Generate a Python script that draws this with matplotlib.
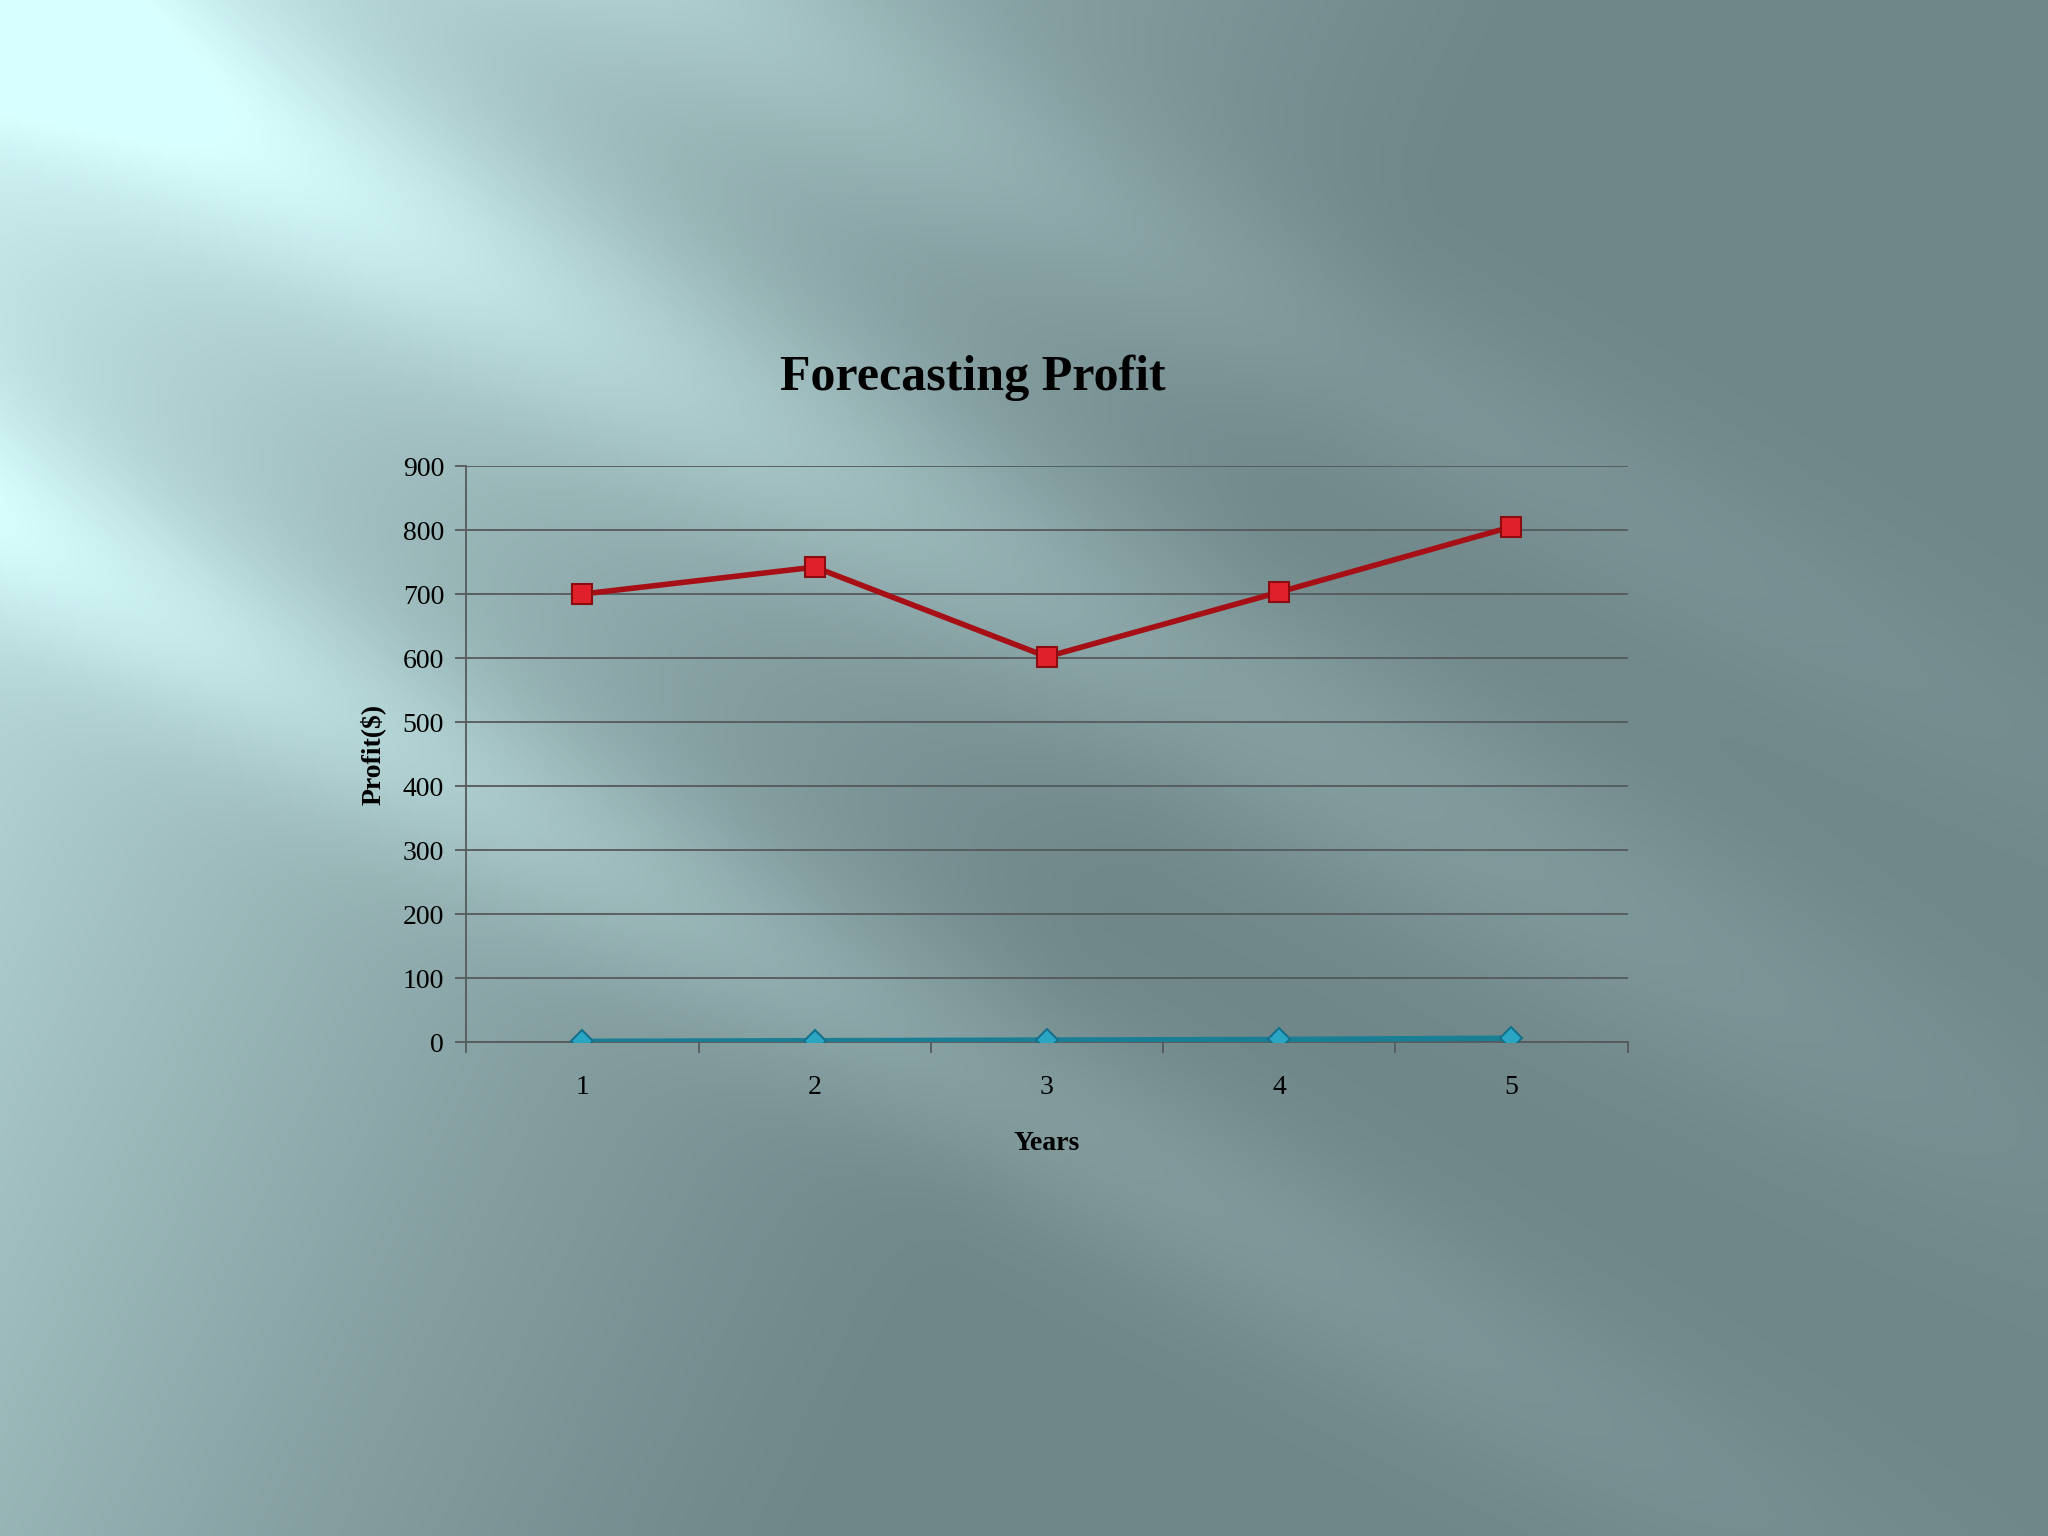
import numpy as np
import matplotlib
matplotlib.use("Agg")
import matplotlib.pyplot as plt

years = [1, 2, 3, 4, 5]
profit = [700, 742, 602, 703, 805]
baseline = [1, 2, 3, 4, 6]
yticks = [0, 100, 200, 300, 400, 500, 600, 700, 800, 900]

plt.rcParams['font.family'] = ['Liberation Serif', 'DejaVu Serif']
fig = plt.figure(figsize=(20.48, 15.36), dpi=100)

# background
bg = fig.add_axes([0, 0, 1, 1])
h, w = 384, 512
yy, xx = np.mgrid[0:h, 0:w]
u = xx / w; v = yy / h
d = (u * 1.0 + v * 0.35)
base = np.clip(1 - d / 0.75, 0, 1) ** 1.3
s = (u - v * 1.33)
streak = 0.35 * np.exp(-((s + 0.0) / 0.12) ** 2) + 0.3 * np.exp(-((s + 0.45) / 0.1) ** 2) + 0.2 * np.exp(-((s - 0.35) / 0.1) ** 2)
streak *= np.clip(1.2 - d / 1.2, 0, 1)
t = np.clip(base * 0.85 + streak, 0, 1)[..., None]
dark = np.array([0.44, 0.53, 0.54]); light = np.array([0.85, 1.0, 1.0])
img = dark + (light - dark) * t
bg.imshow(img, aspect='auto', extent=[0, 1, 0, 1], origin='upper')
bg.axis('off')

ax = fig.add_axes([0.2277, 0.3216, 0.567, 0.375])
ax.patch.set_alpha(0)
ax.set_xlim(0.5, 5.5); ax.set_ylim(0, 900)
ax.set_yticks(yticks)
ax.yaxis.grid(True, color='#555a5c', linewidth=1.3)
ax.set_axisbelow(True)
ax.plot(years, profit, color='#a50f15', linewidth=4, marker='s', markersize=15,
        markerfacecolor='#e0202a', markeredgecolor='#8a0c10', markeredgewidth=1.5, zorder=3)
ax.plot(years, baseline, color='#1a7f95', linewidth=4, marker='D', markersize=11,
        markerfacecolor='#2aa5c4', markeredgecolor='#15708a', markeredgewidth=1.5, zorder=3)
ax.set_xticks(years)
ax.set_xticks([0.5, 1.5, 2.5, 3.5, 4.5, 5.5], minor=True)
ax.tick_params(axis='x', which='major', length=0, pad=24, labelsize=20)
ax.tick_params(axis='x', which='minor', length=8, color='#555a5c', width=1.3, direction='out')
ax.tick_params(axis='y', length=8, color='#555a5c', width=1.3, labelsize=20, pad=8)
for sp in ['top', 'right']:
    ax.spines[sp].set_visible(False)
for sp in ['left', 'bottom']:
    ax.spines[sp].set_color('#555a5c'); ax.spines[sp].set_linewidth(1.3)
ax.set_xlabel('Years', fontsize=20, fontweight='bold', labelpad=22)
ax.set_ylabel('Profit($)', fontsize=20, fontweight='bold', labelpad=12)
fig.text(0.475, 0.754, 'Forecasting Profit', fontsize=36, fontweight='bold', ha='center', va='center')
fig.savefig('out.png', dpi=100)
